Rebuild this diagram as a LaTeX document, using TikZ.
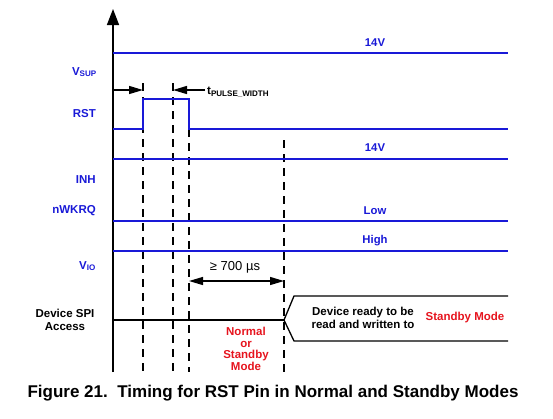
\documentclass[tikz,border=0pt]{standalone}
\usepackage{fontspec}
\setmainfont{Liberation Sans}
\usetikzlibrary{arrows.meta}
\definecolor{tiblue}{RGB}{25,25,215}
\definecolor{tired}{RGB}{230,20,30}
\begin{document}
\begin{tikzpicture}[x=1pt,y=-1pt,
 sig/.style={draw=tiblue, line width=1.4pt},
 blk/.style={draw=black, line width=1.3pt},
 guide/.style={draw=black, line width=1.3pt, dash pattern=on 8pt off 6pt},
 lab/.style={font=\bfseries\fontsize{11.5}{12}\selectfont, text=tiblue, anchor=east, inner sep=0pt},
 val/.style={font=\bfseries\fontsize{11.3}{12}\selectfont, text=tiblue, inner sep=0pt},
 txt/.style={font=\bfseries\fontsize{11.5}{13.5}\selectfont, align=center, inner sep=0pt},
 dim/.style={line width=1.3pt, -{Triangle[length=14pt,width=8pt]}},
 dimboth/.style={line width=1.3pt, {Triangle[length=14pt,width=8pt]}-{Triangle[length=14pt,width=8pt]}},
]
\useasboundingbox (0,0) rectangle (553,418);
% axis
\coordinate (ax0) at (113,372);
\coordinate (ax1) at (113,9);
\draw[line width=1.5pt, -{Triangle[length=16pt,width=12pt]}] (ax0) -- (ax1);
% dashed guides
\coordinate (g1t) at (143,83); \coordinate (g1b) at (143,372);
\coordinate (g2t) at (173,83); \coordinate (g2b) at (173,372);
\coordinate (g3t) at (189,129); \coordinate (g3b) at (189,372);
\coordinate (g4t) at (284,140); \coordinate (g4b) at (284,372);
\draw[guide] (g1t) -- (g1b);
\draw[guide] (g2t) -- (g2b);
\draw[guide] (g3t) -- (g3b);
\draw[guide] (g4t) -- (g4b);
% VSUP
\coordinate (vs0) at (113,53); \coordinate (vs1) at (508,53);
\draw[sig] (vs0) -- (vs1);
\node[val] (vsv) at (375,43) {14V};
\node[lab] (vsl) at (97,72) {V\textsubscript{SUP}};
% RST
\node[lab] (rstl) at (96,114) {RST};
\coordinate (r0) at (113,129); \coordinate (r1) at (143,129); \coordinate (r2) at (143,99);
\coordinate (r3) at (189,99); \coordinate (r4) at (189,129); \coordinate (r5) at (508,129);
\draw[sig] (r0) -- (r1) -- (r2) -- (r3) -- (r4) -- (r5);
\coordinate (pa0) at (113,90); \coordinate (pa1) at (143,90);
\coordinate (pb0) at (205,90); \coordinate (pb1) at (173,90);
\draw[dim] (pa0) -- (pa1);
\draw[dim] (pb0) -- (pb1);
\node[anchor=west, inner sep=0pt, font=\bfseries\fontsize{11.5}{12}\selectfont] (tpw) at (207,92) {t\textsubscript{PULSE\_WIDTH}};
% INH
\coordinate (i0) at (113,159); \coordinate (i1) at (508,159);
\draw[sig] (i0) -- (i1);
\node[val] (iv) at (375,148) {14V};
\node[lab] (inhl) at (96,180) {INH};
% nWKRQ
\node[lab] (nwl) at (96,211) {nWKRQ};
\coordinate (n0) at (113,221); \coordinate (n1) at (508,221);
\draw[sig] (n0) -- (n1);
\node[val] (nv) at (375,211) {Low};
% VIO
\coordinate (v0) at (113,251); \coordinate (v1) at (508,251);
\draw[sig] (v0) -- (v1);
\node[val] (vv) at (375,241) {High};
\node[lab] (viol) at (96,266) {V\textsubscript{IO}};
% 700 us
\coordinate (d0) at (189,281); \coordinate (d1) at (284,281);
\draw[dimboth] (d0) -- (d1);
\node[inner sep=0pt, font=\fontsize{13}{14}\selectfont] (dt) at (235,267) {≥ 700 µs};
% SPI
\node[txt] (spil) at (65,320) {Device SPI\\Access};
\coordinate (s0) at (113,320); \coordinate (s1) at (284,320);
\coordinate (su) at (294,296); \coordinate (su1) at (508,296);
\coordinate (sd) at (294,341); \coordinate (sd1) at (508,341);
\draw[blk] (s0) -- (s1);
\draw[blk, line join=miter] (su1) -- (su) -- (s1) -- (sd) -- (sd1);
\node[txt] (ready) at (363,318) {Device ready to be\\read and written to};
\node[txt, text=tired] (stby) at (465,318) {Standby Mode};
\node[txt, text=tired, font=\bfseries\fontsize{11.5}{11.7}\selectfont] (nos) at (246,349) {Normal\\or\\Standby\\Mode};
% caption
\node[inner sep=0pt, font=\bfseries\fontsize{17}{19}\selectfont] (cap) at (273,393) {Figure 21.\ \ Timing for RST Pin in Normal and Standby Modes};
\end{tikzpicture}
\end{document}
